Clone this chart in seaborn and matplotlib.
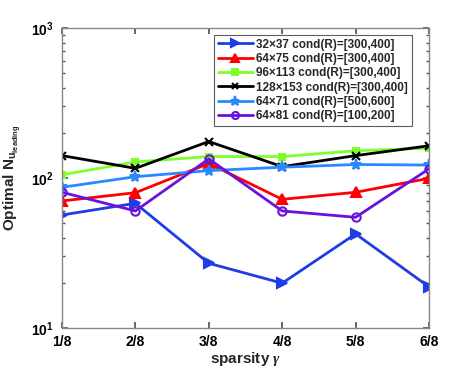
import matplotlib
matplotlib.use("Agg")
import matplotlib.pyplot as plt
import seaborn as sns
import pandas as pd
import numpy as np

sparsity_labels = ["1/8", "2/8", "3/8", "4/8", "5/8", "6/8"]
series_names = [
    "32×37 cond(R)=[300,400]",
    "64×75 cond(R)=[300,400]",
    "96×113 cond(R)=[300,400]",
    "128×153 cond(R)=[300,400]",
    "64×71 cond(R)=[500,600]",
    "64×81 cond(R)=[100,200]",
]
s32x37 = [56.7, 67.8, 27.0, 19.9, 42.4, 18.8]
s64x75 = [70.3, 79.8, 125, 72.1, 80.3, 99.5]
s96x113 = [105, 128, 139, 139, 152, 158]
s128x153 = [141, 116, 175, 119, 141, 164]
s64x71 = [86.7, 102, 112, 118, 123, 122]
s64x81 = [80.3, 60.3, 134, 60.3, 54.7, 115]

colors = ["#1f3de6", "#ff0000", "#7dff2a", "#000000", "#2a88ff", "#6a12dc"]
markers = [">", "^", "s", "x", "*", "o"]
msizes = [6.5, 6.5, 5, 5.5, 8, 6]
mfcs = [None, None, None, None, None, "none"]

sns.set_theme(style="ticks")
plt.rcParams["font.family"] = ["Liberation Sans", "DejaVu Sans"]
plt.rcParams["font.weight"] = "bold"
plt.rcParams["mathtext.fontset"] = "custom"
plt.rcParams["mathtext.rm"] = "Liberation Sans:bold"
plt.rcParams["mathtext.bf"] = "Liberation Sans:bold"
plt.rcParams["mathtext.it"] = "Liberation Serif:italic"
plt.rcParams["mathtext.default"] = "bf"

fig = plt.figure(figsize=(4.74, 3.69), dpi=100)
ax = fig.add_axes([62/474, 1-328/369, (429-62)/474, (328-28)/369])

x = np.arange(1, 7)
all_series = [s32x37, s64x75, s96x113, s128x153, s64x71, s64x81]
for name, vals, c, m, ms, mfc in zip(series_names, all_series, colors, markers, msizes, mfcs):
    df = pd.DataFrame({"x": x, "y": vals})
    kw = dict(marker=m, markersize=ms, color=c, linewidth=2, label=name,
              markeredgecolor=c, markeredgewidth=1.5)
    kw["markerfacecolor"] = mfc if mfc is not None else c
    sns.lineplot(data=df, x="x", y="y", ax=ax, **kw)

ax.set_yscale("log")
ax.set_ylim(10, 1000)
ax.set_xlim(1, 6)
ax.set_xticks(x)
ax.set_xticklabels(sparsity_labels)
ax.tick_params(axis="both", which="both", direction="in", top=True, right=True,
               labelsize=10, colors="#555555", labelcolor="black")
ax.tick_params(axis="x", which="major", length=4, pad=5)
ax.tick_params(axis="y", which="major", length=4, pad=6)
ax.tick_params(axis="y", which="minor", length=2.5)
for sp in ax.spines.values():
    sp.set_color("#888888")
    sp.set_linewidth(1)
ax.set_xlabel(r"sparsity $\mathit{\gamma}$", fontsize=11, fontweight="bold", labelpad=1)
ax.set_ylabel(r"Optimal N$_{u_{leading}}$", fontsize=11, fontweight="bold", labelpad=6)

leg = ax.legend(loc="upper left", bbox_to_anchor=((214-62)/367, 1-(35-28)/300),
                fontsize=8.5, frameon=True, fancybox=False, edgecolor="#333333",
                handlelength=3, handletextpad=0.3, borderpad=0.3, labelspacing=0.2,
                borderaxespad=0, markerscale=0.85)
leg.get_frame().set_linewidth(0.8)
for t in leg.get_texts():
    t.set_fontweight("bold")

fig.savefig("out.png", dpi=100)
